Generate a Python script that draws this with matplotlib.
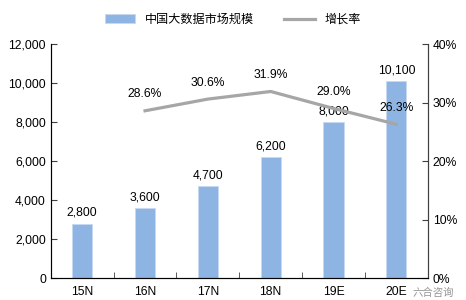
import numpy as np
import matplotlib.pyplot as plt

plt.rcParams['font.family'] = ['Liberation Sans', 'Noto Sans CJK SC', 'DejaVu Sans']

years = ["15N", "16N", "17N", "18N", "19E", "20E"]
market_size = [2800, 3600, 4700, 6200, 8000, 10100]
growth_years = ["16N", "17N", "18N", "19E", "20E"]
growth_rate = [28.6, 30.6, 31.9, 29.0, 26.3]

bar_color = "#8eb4e3"
line_color = "#a6a6a6"

fig = plt.figure(figsize=(4.66, 3.0), dpi=100)
ax = fig.add_axes([0.109, 0.073, 0.809, 0.78])
x = np.arange(len(years))
ax.bar(x, market_size, width=0.32, color=bar_color, edgecolor="#c6d9f1", linewidth=0.6,
       label="中国大数据市场规模", zorder=2)
for xi, v in zip(x, market_size):
    ax.text(xi, v + 250, f"{v:,}", ha="center", va="bottom", fontsize=8.7)

ax.set_xlim(-0.5, len(years) - 0.5)
ax.set_ylim(0, 12000)
ax.set_yticks(np.arange(0, 12001, 2000))
ax.set_yticklabels([f"{v:,}" for v in range(0, 12001, 2000)], fontsize=8.7)
ax.set_xticks(x)
ax.set_xticklabels(years, fontsize=8.7)
ax.set_xticks(np.arange(-0.5, len(years), 1), minor=True)
ax.tick_params(axis="x", which="major", length=0, pad=6)
ax.tick_params(axis="x", which="minor", direction="in", length=4, color="#404040")
ax.tick_params(axis="y", direction="in", length=4, color="#404040")
for s in ["left", "bottom", "right"]:
    ax.spines[s].set_color("#404040")
ax.spines["top"].set_visible(False)

ax2 = ax.twinx()
gx = [years.index(g) for g in growth_years]
ax2.plot(gx, growth_rate, color=line_color, lw=2.3, label="增长率", zorder=3)
for xi, v in zip(gx, growth_rate):
    ax2.text(xi, v + 1.8, f"{v:.1f}%", ha="center", va="bottom", fontsize=8.7)
ax2.set_ylim(0, 40)
ax2.set_yticks([0, 10, 20, 30, 40])
ax2.set_yticklabels(["0%", "10%", "20%", "30%", "40%"], fontsize=8.7)
ax2.tick_params(axis="y", direction="in", length=4, color="#404040")
ax2.spines["top"].set_visible(False)
ax2.spines["right"].set_color("#404040")

h1, l1 = ax.get_legend_handles_labels()
h2, l2 = ax2.get_legend_handles_labels()
fig.legend(h1 + h2, l1 + l2, loc="upper center", bbox_to_anchor=(0.5, 0.99), ncol=2,
           frameon=False, fontsize=8.7, handlelength=2.5, columnspacing=2.5)

# watermark
fig.text(0.975, 0.012, "六合咨询", fontsize=7.5, color="#666666", ha="right", alpha=0.7)

fig.savefig("out.png", dpi=100)
